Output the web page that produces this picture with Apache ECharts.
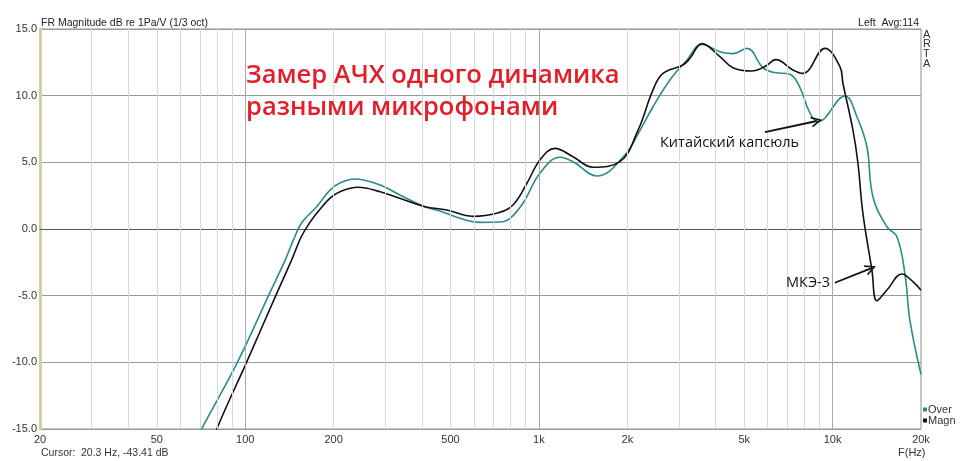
<!DOCTYPE html>
<html>
<head>
<meta charset="utf-8">
<script src="https://cdn.jsdelivr.net/npm/echarts@6/dist/echarts.min.js"></script>
<style>
html,body{margin:0;padding:0;background:#fff;}
#chart{width:960px;height:461px;}
</style>
</head>
<body>
<div id="chart"></div>
<script>
// ---- data (frequency Hz, level dB) ----
const overSeries = [
  [20,-42],[40,-29],[60,-18.2],[71,-15],[94,-10],[120,-5],[137,-2.3],[146,-0.8],[156,0.5],[175,1.67],[194,2.9],
  [210,3.45],[236,3.75],[288,3.3],[336,2.55],[409,1.67],[460,1.35],[538,0.8],[630,0.5],[737,0.52],
  [797,0.8],[882,1.93],[1008,4.18],[1179,5.38],[1306,5.05],[1576,3.98],[1962,5.55],[2209,7.4],
  [2446,9.17],[2793,11.18],[3193,12.68],[3590,13.85],[4134,13.3],[4577,13.15],[5108,13.55],
  [5790,12.1],[6262,11.75],[7156,11.6],[7740,10.6],[8370,8.7],[8912,8.05],[11012,9.98],
  [12100,8.42],[13088,6.17],[13716,2.42],[15312,0.17],[16558,-0.58],[17628,-3.33],[18332,-6.83],[20000,-10.9]
];
const magnSeries = [
  [20,-43.4],[40,-31],[70,-18.5],[80,-15],[101,-10],[127,-5],[144,-2.3],[155,-0.6],[166,0.5],[180,1.5],[194,2.3],
  [210,2.8],[242,3.13],[288,2.8],[336,2.3],[409,1.67],[485,1.43],[596,0.95],[718,1.18],[816,1.8],
  [910,3.43],[1008,5.18],[1134,6.05],[1306,5.42],[1528,4.63],[1887,5.05],[2174,7.4],[2446,10.43],
  [2644,11.67],[3093,12.3],[3268,12.8],[3590,13.9],[4134,12.93],[4577,12.1],[5300,11.85],[5900,12.2],
  [6412,12.7],[7326,11.93],[7925,11.67],[9416,13.55],[10592,12.17],[10843,10.93],[11726,7.43],
  [12196,4.95],[12684,1.17],[13610,-3.08],[14152,-5.38],[15312,-4.58],[17218,-3.38],[18768,-3.95],[20000,-4.6]
];
const freqTicks = [20,50,100,200,500,1000,2000,5000,10000,20000];
const freqTickLabels = ['20','50','100','200','500','1k','2k','5k','10k','20k'];
const majorGridFreqs = [100,1000,10000];
const minorGridFreqs = [30,40,50,60,70,80,90,200,300,400,500,600,700,800,900,
  2000,3000,4000,5000,6000,7000,8000,9000];
const seriesNames = ['Over','Magn'];
// annotation arrows [start, tip] in (Hz, dB)
const arrowChina = [[5880,7.27],[8840,8.1]];
const arrowMke = [[10180,-4.03],[13500,-2.95]];

const chart = echarts.init(document.getElementById('chart'), null, {renderer:'canvas'});
const fontA = '"Liberation Sans", Arial, sans-serif';
const fontB = '"Open Sans", sans-serif';
const chevron = 'path://M0,10 L5,0 L10,10 L8.4,10 L5,3.2 L1.6,10 Z';

const gridLines = [];
minorGridFreqs.forEach(f => gridLines.push({xAxis:f, lineStyle:{color:'#d9d9d9', width:1, type:'solid'}}));
majorGridFreqs.forEach(f => gridLines.push({xAxis:f, lineStyle:{color:'#a8a8a8', width:1, type:'solid'}}));

function arrowLine(a){
  return [{coord:a[0], symbol:'none'}, {coord:a[1], symbol:chevron, symbolSize:[11,11]}];
}

chart.setOption({
  animation:false,
  backgroundColor:'#ffffff',
  grid:{left:40, top:29, width:881, height:400, show:true, borderColor:'#8c8c8c', borderWidth:1, backgroundColor:'transparent'},
  legend:{
    orient:'vertical', left:918, top:399, itemWidth:4, itemHeight:4, itemGap:0, icon:'rect',
    data:seriesNames, textStyle:{fontSize:11, fontFamily:fontA, color:'#333', padding:[0,0,0,-4]}
  },
  xAxis:{
    type:'log', logBase:10, min:20, max:20000,
    axisLine:{show:true, lineStyle:{color:'#555', width:1}},
    axisTick:{show:false},
    splitLine:{show:false},
    minorTick:{show:false}, minorSplitLine:{show:false},
    axisLabel:{
      customValues:freqTicks, showMinLabel:true, showMaxLabel:true, margin:5,
      fontSize:11, fontFamily:fontA, color:'#333',
      formatter:function(v){
        const i = freqTicks.findIndex(t => Math.abs(t - v) / t < 1e-6);
        return i >= 0 ? freqTickLabels[i] : '';
      }
    }
  },
  yAxis:{
    type:'value', min:-15, max:15, interval:5,
    axisLine:{show:true, lineStyle:{color:'#d3cf9e', width:3}},
    axisTick:{show:false},
    splitLine:{show:true, lineStyle:{color:'#9a9a9a', width:1}},
    axisLabel:{margin:3, fontSize:11, fontFamily:fontA, color:'#333', formatter:v => v.toFixed(1)}
  },
  graphic:[
    {type:'text', z:100, left:41, top:18, style:{text:'FR Magnitude dB re 1Pa/V (1/3 oct)', fontSize:10.5, fontFamily:fontA, fill:'#222'}},
    {type:'text', z:100, right:41, top:18, style:{text:'Left  Avg:114', fontSize:10.5, fontFamily:fontA, fill:'#222'}},
    {type:'text', z:100, left:923, top:29, style:{text:'A\nR\nT\nA', fontSize:11, lineHeight:9.8, fontFamily:fontA, fill:'#333'}},
    {type:'text', z:100, left:41, top:448, style:{text:'Cursor:', fontSize:10.5, fontFamily:fontA, fill:'#333'}},
    {type:'text', z:100, left:81, top:448, style:{text:'20.3 Hz, -43.41 dB', fontSize:10.5, fontFamily:fontA, fill:'#333'}},
    {type:'text', z:100, left:898, top:447, style:{text:'F(Hz)', fontSize:11, fontFamily:fontA, fill:'#333'}},
    {type:'text', z:100, left:246, top:63, style:{text:'Замер АЧХ одного динамика', fontSize:25.5, fontWeight:600, fontFamily:fontB, fill:'#e31e2a'}},
    {type:'text', z:100, left:246, top:95, style:{text:'разными микрофонами', fontSize:25.5, fontWeight:600, fontFamily:fontB, fill:'#e31e2a'}},
    {type:'text', z:100, left:660, top:135, style:{text:'Китайский капсюль', fontSize:14.5, fontFamily:fontB, fill:'#111'}},
    {type:'text', z:100, left:786, top:275, style:{text:'МКЭ-3', fontSize:14.5, fontFamily:fontB, fill:'#111'}}
  ],
  series:[
    {
      name:'grid', type:'line', data:[[20,-100]], showSymbol:false, silent:true, z:1,
      lineStyle:{opacity:0}, legendHoverLink:false,
      markLine:{silent:true, symbol:'none', label:{show:false}, animation:false, data:gridLines}
    },
    {
      name:'Over', type:'line', data:overSeries, showSymbol:false, smooth:0.4,
      color:'#2a8c8a', lineStyle:{color:'#2a8c8a', width:1.6}, z:3, clip:true
    },
    {
      name:'Magn', type:'line', data:magnSeries, showSymbol:false, smooth:0.4,
      color:'#111111', lineStyle:{color:'#111111', width:1.6}, z:4, clip:true,
      markLine:{silent:true, label:{show:false}, animation:false,
        lineStyle:{color:'#111', width:1.8, type:'solid'},
        data:[arrowLine(arrowChina), arrowLine(arrowMke)]}
    }
  ]
});
</script>
</body>
</html>
